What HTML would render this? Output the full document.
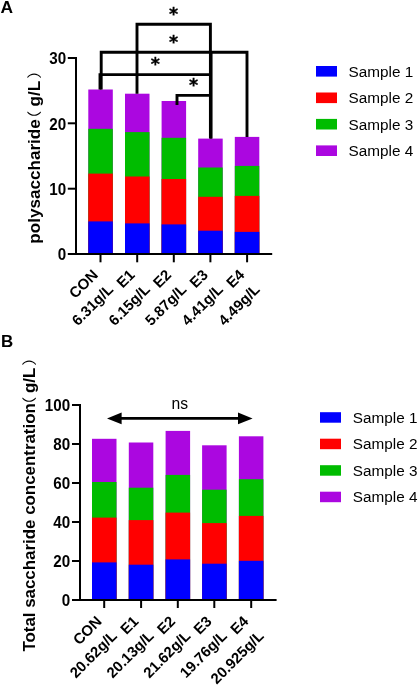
<!DOCTYPE html>
<html lang="en"><head><meta charset="utf-8"><title>Figure</title>
<style>html,body{margin:0;padding:0;background:#fff;}body{width:419px;height:685px;overflow:hidden;}svg{display:block;}
text{font-family:"Liberation Sans", sans-serif;fill:#000;}
.b{font-weight:bold;}
.cjk{font-family:"Liberation Sans","Noto Sans CJK SC",sans-serif;}
</style></head><body>
<svg width="419" height="685" viewBox="0 0 419 685">
<rect width="419" height="685" fill="#fff"/>
<text class="b" x="0.4" y="12.5" font-size="17.4">A</text>
<rect x="88.3" y="89.5" width="24.5" height="164.0" fill="#AB07E0"/>
<rect x="88.3" y="128.8" width="24.5" height="124.7" fill="#00BC00"/>
<rect x="88.3" y="173.6" width="24.5" height="79.9" fill="#FF0000"/>
<rect x="88.3" y="221.4" width="24.5" height="32.1" fill="#0000FF"/>
<rect x="125.0" y="93.7" width="24.5" height="159.8" fill="#AB07E0"/>
<rect x="125.0" y="132.1" width="24.5" height="121.4" fill="#00BC00"/>
<rect x="125.0" y="176.5" width="24.5" height="77.0" fill="#FF0000"/>
<rect x="125.0" y="223.4" width="24.5" height="30.1" fill="#0000FF"/>
<rect x="161.6" y="101" width="24.5" height="152.5" fill="#AB07E0"/>
<rect x="161.6" y="137.8" width="24.5" height="115.7" fill="#00BC00"/>
<rect x="161.6" y="179" width="24.5" height="74.5" fill="#FF0000"/>
<rect x="161.6" y="224.4" width="24.5" height="29.1" fill="#0000FF"/>
<rect x="198.2" y="138.6" width="24.5" height="114.9" fill="#AB07E0"/>
<rect x="198.2" y="167.5" width="24.5" height="86.0" fill="#00BC00"/>
<rect x="198.2" y="196.8" width="24.5" height="56.7" fill="#FF0000"/>
<rect x="198.2" y="230.7" width="24.5" height="22.8" fill="#0000FF"/>
<rect x="234.8" y="136.9" width="24.5" height="116.6" fill="#AB07E0"/>
<rect x="234.8" y="165.9" width="24.5" height="87.6" fill="#00BC00"/>
<rect x="234.8" y="195.9" width="24.5" height="57.6" fill="#FF0000"/>
<rect x="234.8" y="231.9" width="24.5" height="21.6" fill="#0000FF"/>
<g stroke="#000" stroke-width="2" fill="none" stroke-linecap="butt">
<path d="M76 57 V255"/>
<path d="M67.8 254 H272.2"/>
<path d="M67.8 58 H76"/>
<path d="M67.8 123.3 H76"/>
<path d="M67.8 188.7 H76"/>
<path d="M100.5 254 V262.3"/>
<path d="M137.2 254 V262.3"/>
<path d="M173.8 254 V262.3"/>
<path d="M210.4 254 V262.3"/>
<path d="M247.1 254 V262.3"/>
</g>
<g stroke="#000" stroke-width="2.9" fill="none" stroke-linecap="butt" stroke-linejoin="miter">
<path d="M137 93.7 V24.3 H210.4 V138.6"/>
<path d="M101.2 89.5 V52.3 H247 V136.9"/>
<path d="M100 89.5 V74.6 H210.4"/>
<path d="M211.1 52.3 V138.6"/>
<path d="M177 105 V95.4 H210.4"/>
</g>
<text x="173.7" y="19.8" font-size="17.5" text-anchor="middle" style="font-family:'DejaVu Sans',sans-serif;font-weight:bold;stroke:#000;stroke-width:0.3px">*</text>
<text x="173.7" y="47.8" font-size="17.5" text-anchor="middle" style="font-family:'DejaVu Sans',sans-serif;font-weight:bold;stroke:#000;stroke-width:0.3px">*</text>
<text x="155.3" y="69.9" font-size="17.5" text-anchor="middle" style="font-family:'DejaVu Sans',sans-serif;font-weight:bold;stroke:#000;stroke-width:0.3px">*</text>
<text x="193.6" y="90.5" font-size="17.5" text-anchor="middle" style="font-family:'DejaVu Sans',sans-serif;font-weight:bold;stroke:#000;stroke-width:0.3px">*</text>
<text class="b" transform="translate(66.2 64.2) scale(1 1.08)" font-size="15.2" text-anchor="end">30</text>
<text class="b" transform="translate(66.2 129.5) scale(1 1.08)" font-size="15.2" text-anchor="end">20</text>
<text class="b" transform="translate(66.2 194.9) scale(1 1.08)" font-size="15.2" text-anchor="end">10</text>
<text class="b" transform="translate(66.2 260.2) scale(1 1.08)" font-size="15.2" text-anchor="end">0</text>
<g transform="translate(39.6 243.7) rotate(-90)">
<text class="b" font-size="17.1" x="0" y="0">polysaccharide</text>
<text class="b" font-size="17.1" x="137.2" y="0">g/L</text>
<text class="cjk" font-size="14.5" text-anchor="middle" transform="translate(124.4 0.6) scale(1.18 1.0)">（</text>
<text class="cjk" font-size="14.5" text-anchor="middle" transform="translate(173.4 0.6) scale(1.18 1.0)">）</text>
</g>
<g transform="translate(98.2 276.5) rotate(-45)"><text class="b" font-size="15" text-anchor="end" x="1" y="0">CON</text><text class="b" font-size="14.85" text-anchor="end" x="1.5" y="21">6.31g/L</text></g>
<g transform="translate(134.9 276.5) rotate(-45)"><text class="b" font-size="15" text-anchor="end" x="1" y="0">E1</text><text class="b" font-size="14.85" text-anchor="end" x="1.5" y="21">6.15g/L</text></g>
<g transform="translate(171.5 276.5) rotate(-45)"><text class="b" font-size="15" text-anchor="end" x="1" y="0">E2</text><text class="b" font-size="14.85" text-anchor="end" x="1.5" y="21">5.87g/L</text></g>
<g transform="translate(208.1 276.5) rotate(-45)"><text class="b" font-size="15" text-anchor="end" x="1" y="0">E3</text><text class="b" font-size="14.85" text-anchor="end" x="1.5" y="21">4.41g/L</text></g>
<g transform="translate(244.8 276.5) rotate(-45)"><text class="b" font-size="15" text-anchor="end" x="1" y="0">E4</text><text class="b" font-size="14.85" text-anchor="end" x="1.5" y="21">4.49g/L</text></g>
<rect x="316" y="66.0" width="21" height="10.6" fill="#0000FF"/>
<text x="348.6" y="76.9" font-size="15.3">Sample 1</text>
<rect x="316" y="92.5" width="21" height="10.6" fill="#FF0000"/>
<text x="348.6" y="103.4" font-size="15.3">Sample 2</text>
<rect x="316" y="118.9" width="21" height="10.6" fill="#00BC00"/>
<text x="348.6" y="129.8" font-size="15.3">Sample 3</text>
<rect x="316" y="145.4" width="21" height="10.6" fill="#AB07E0"/>
<text x="348.6" y="156.3" font-size="15.3">Sample 4</text>
<text class="b" x="1.1" y="346.7" font-size="16.9">B</text>
<rect x="92.0" y="438.8" width="24.5" height="160.7" fill="#AB07E0"/>
<rect x="92.0" y="482" width="24.5" height="117.5" fill="#00BC00"/>
<rect x="92.0" y="517.6" width="24.5" height="81.9" fill="#FF0000"/>
<rect x="92.0" y="562.4" width="24.5" height="37.1" fill="#0000FF"/>
<rect x="128.8" y="442.5" width="24.5" height="157.0" fill="#AB07E0"/>
<rect x="128.8" y="487.7" width="24.5" height="111.8" fill="#00BC00"/>
<rect x="128.8" y="520.1" width="24.5" height="79.4" fill="#FF0000"/>
<rect x="128.8" y="564.7" width="24.5" height="34.8" fill="#0000FF"/>
<rect x="165.6" y="430.9" width="24.5" height="168.6" fill="#AB07E0"/>
<rect x="165.6" y="474.9" width="24.5" height="124.6" fill="#00BC00"/>
<rect x="165.6" y="512.6" width="24.5" height="86.9" fill="#FF0000"/>
<rect x="165.6" y="559.4" width="24.5" height="40.1" fill="#0000FF"/>
<rect x="202.1" y="445.3" width="24.5" height="154.2" fill="#AB07E0"/>
<rect x="202.1" y="489.7" width="24.5" height="109.8" fill="#00BC00"/>
<rect x="202.1" y="523.1" width="24.5" height="76.4" fill="#FF0000"/>
<rect x="202.1" y="563.7" width="24.5" height="35.8" fill="#0000FF"/>
<rect x="238.9" y="436.3" width="24.5" height="163.2" fill="#AB07E0"/>
<rect x="238.9" y="479.2" width="24.5" height="120.3" fill="#00BC00"/>
<rect x="238.9" y="515.9" width="24.5" height="83.6" fill="#FF0000"/>
<rect x="238.9" y="560.8" width="24.5" height="38.7" fill="#0000FF"/>
<g stroke="#000" stroke-width="2" fill="none">
<path d="M80 404 V601"/>
<path d="M72 600 H276.6"/>
<path d="M72 405 H80"/>
<path d="M72 444 H80"/>
<path d="M72 483 H80"/>
<path d="M72 522 H80"/>
<path d="M72 561 H80"/>
<path d="M104.2 600 V608"/>
<path d="M141.1 600 V608"/>
<path d="M177.8 600 V608"/>
<path d="M214.3 600 V608"/>
<path d="M251.2 600 V608"/>
</g>
<path d="M118 418.4 H241" stroke="#000" stroke-width="2.7" fill="none"/>
<path d="M107 418.4 L121.6 412.6 V424.2 Z" fill="#000"/>
<path d="M252.6 418.4 L238 412.6 V424.2 Z" fill="#000"/>
<text x="179.7" y="409" font-size="15.7" text-anchor="middle">ns</text>
<text class="b" transform="translate(70.2 411.2) scale(1 1.08)" font-size="15.2" text-anchor="end">100</text>
<text class="b" transform="translate(70.2 450.2) scale(1 1.08)" font-size="15.2" text-anchor="end">80</text>
<text class="b" transform="translate(70.2 489.2) scale(1 1.08)" font-size="15.2" text-anchor="end">60</text>
<text class="b" transform="translate(70.2 528.2) scale(1 1.08)" font-size="15.2" text-anchor="end">40</text>
<text class="b" transform="translate(70.2 567.2) scale(1 1.08)" font-size="15.2" text-anchor="end">20</text>
<text class="b" transform="translate(70.2 606.2) scale(1 1.08)" font-size="15.2" text-anchor="end">0</text>
<g transform="translate(35.2 651.6) rotate(-90)">
<text class="b" font-size="16.9" x="0" y="0">Total saccharide concentration</text>
<text class="b" font-size="16.9" x="258.5" y="0">g/L</text>
<text class="cjk" font-size="14.5" text-anchor="middle" transform="translate(246.5 -0.4) scale(1.18 1.0)">（</text>
<text class="cjk" font-size="14.5" text-anchor="middle" transform="translate(294.3 -0.4) scale(1.18 1.0)">）</text>
</g>
<g transform="translate(102.0 623) rotate(-45)"><text class="b" font-size="15" text-anchor="end" x="1" y="0">CON</text><text class="b" font-size="14.85" text-anchor="end" x="1.5" y="21">20.62g/L</text></g>
<g transform="translate(138.8 623) rotate(-45)"><text class="b" font-size="15" text-anchor="end" x="1" y="0">E1</text><text class="b" font-size="14.85" text-anchor="end" x="1.5" y="21">20.13g/L</text></g>
<g transform="translate(175.5 623) rotate(-45)"><text class="b" font-size="15" text-anchor="end" x="1" y="0">E2</text><text class="b" font-size="14.85" text-anchor="end" x="1.5" y="21">21.62g/L</text></g>
<g transform="translate(212.0 623) rotate(-45)"><text class="b" font-size="15" text-anchor="end" x="1" y="0">E3</text><text class="b" font-size="14.85" text-anchor="end" x="1.5" y="21">19.76g/L</text></g>
<g transform="translate(248.8 623) rotate(-45)"><text class="b" font-size="15" text-anchor="end" x="1" y="0">E4</text><text class="b" font-size="14.85" text-anchor="end" x="1.5" y="21">20.925g/L</text></g>
<rect x="320" y="412.2" width="21" height="10.5" fill="#0000FF"/>
<text x="352.8" y="422.8" font-size="15.3">Sample 1</text>
<rect x="320" y="438.7" width="21" height="10.5" fill="#FF0000"/>
<text x="352.8" y="449.3" font-size="15.3">Sample 2</text>
<rect x="320" y="465.2" width="21" height="10.5" fill="#00BC00"/>
<text x="352.8" y="475.8" font-size="15.3">Sample 3</text>
<rect x="320" y="491.7" width="21" height="10.5" fill="#AB07E0"/>
<text x="352.8" y="502.3" font-size="15.3">Sample 4</text>
</svg></body></html>
